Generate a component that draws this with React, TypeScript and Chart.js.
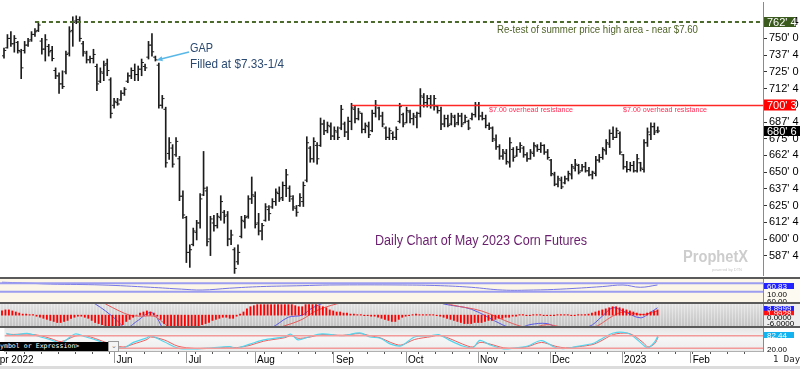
import React, { useEffect, useRef } from 'react';
import { Chart, registerables } from 'chart.js';

Chart.register(...registerables);
Chart.defaults.font.family = "'Liberation Sans', Arial, sans-serif";

// ---------------- data (daily May 2023 corn, cents/bu) ----------------
const highs = [
  742.7, 752.9, 755.1, 752.2, 747.8, 741.9, 747.8, 750.0, 755.1, 757.4,
  762.5, 750.0, 752.9, 745.6, 744.1, 728.0, 724.3, 725.8, 740.5, 758.8,
  766.2, 766.9, 766.2, 747.8, 740.5, 736.8, 741.9, 730.9, 728.0, 733.1,
  734.6, 720.6, 705.2, 705.2, 711.0, 713.3, 724.3, 728.0, 730.9, 729.4,
  734.6, 730.9, 747.8, 753.7, 736.8, 731.6, 707.4, 698.6, 675.8, 670.6,
  675.8, 661.8, 636.1, 617.0, 595.7, 608.2, 614.0, 633.9, 665.5, 639.0,
  617.0, 617.7, 619.2, 632.4, 621.4, 620.6, 606.7, 593.5, 595.7, 617.0,
  617.7, 632.4, 646.4, 635.3, 619.2, 611.8, 626.5, 625.1, 630.2, 637.6,
  639.0, 642.7, 652.2, 639.8, 632.4, 625.1, 633.9, 642.7, 676.5, 669.2,
  675.8, 672.1, 690.5, 689.0, 687.5, 686.8, 683.9, 683.9, 700.0, 687.5,
  691.2, 701.5, 700.0, 697.8, 694.1, 686.8, 687.5, 696.4, 703.7, 698.6,
  694.9, 683.9, 683.1, 680.2, 683.9, 701.5, 694.1, 698.6, 696.4, 694.1,
  694.9, 712.5, 708.8, 707.4, 707.4, 707.4, 700.0, 698.6, 692.7, 692.7,
  694.1, 692.7, 694.1, 694.1, 692.7, 689.0, 694.1, 702.2, 702.2, 694.9,
  692.7, 686.8, 683.9, 678.0, 670.6, 667.0, 667.0, 675.8, 668.4, 669.2,
  672.1, 669.2, 664.7, 667.0, 672.1, 670.6, 672.1, 670.6, 667.0, 659.6,
  650.0, 647.1, 646.4, 647.1, 650.8, 655.9, 659.6, 655.9, 655.9, 657.4,
  653.7, 650.8, 661.8, 663.3, 668.4, 674.3, 681.7, 683.9, 683.1, 680.2,
  663.3, 658.1, 657.4, 658.1, 663.3, 657.4, 674.3, 683.1, 686.8, 686.8,
  683.9,
];
const lows = [
  735.3, 742.7, 744.1, 739.7, 739.0, 719.9, 739.0, 744.1, 747.8, 751.5,
  755.1, 738.2, 733.1, 736.8, 733.1, 719.9, 708.8, 712.5, 723.5, 736.8,
  744.1, 761.0, 747.8, 736.8, 731.6, 731.6, 731.6, 711.0, 716.9, 718.4,
  722.1, 690.5, 697.8, 700.0, 703.7, 707.4, 716.9, 719.9, 718.4, 718.4,
  722.1, 725.8, 734.6, 736.8, 733.1, 697.8, 697.8, 653.7, 659.6, 653.7,
  661.8, 628.7, 615.5, 582.4, 578.8, 594.9, 599.3, 608.2, 632.4, 594.9,
  587.6, 605.9, 608.2, 614.0, 611.8, 594.9, 595.7, 574.3, 581.0, 600.8,
  608.2, 615.5, 626.5, 608.2, 603.0, 599.3, 613.3, 614.0, 622.9, 625.1,
  628.0, 628.7, 631.7, 628.0, 621.4, 617.0, 624.3, 624.3, 642.7, 657.4,
  657.4, 655.9, 669.2, 678.0, 679.4, 674.3, 674.3, 674.3, 681.7, 676.5,
  674.3, 681.7, 686.8, 689.0, 679.4, 679.4, 675.8, 680.2, 691.2, 689.0,
  683.9, 674.3, 674.3, 674.3, 674.3, 686.8, 683.9, 686.8, 686.8, 685.3,
  683.1, 691.2, 698.6, 698.6, 697.8, 696.4, 694.1, 681.7, 683.9, 683.9,
  685.3, 683.9, 685.3, 683.9, 686.8, 681.7, 689.0, 691.2, 689.0, 689.0,
  683.1, 681.7, 672.8, 667.0, 659.6, 659.6, 655.9, 653.7, 658.1, 661.8,
  664.7, 661.1, 658.1, 659.6, 661.8, 665.5, 664.7, 663.3, 659.6, 647.1,
  639.8, 639.0, 637.6, 641.2, 643.4, 644.9, 650.8, 648.6, 650.8, 650.0,
  647.1, 644.9, 647.1, 657.4, 659.6, 663.3, 668.4, 674.3, 675.8, 663.3,
  652.2, 650.0, 650.8, 650.0, 650.0, 650.8, 650.0, 669.2, 674.3, 678.0,
  679.4,
];
const opens = [
  737, 743, 750, 746, 747, 740, 741, 745, 749, 753,
  756, 748, 742, 744, 741, 726, 722, 716, 725, 739,
  756, 763, 764, 746, 739, 734, 735, 729, 718, 724,
  731, 719, 700, 702, 704, 709, 718, 722, 726, 723,
  727, 729, 736, 745, 736, 730, 700, 697, 664, 668,
  663, 660, 632, 616, 590, 596, 605, 612, 633, 636,
  600, 612, 610, 616, 620, 618, 600, 592, 583, 602,
  613, 617, 630, 632, 612, 606, 614, 622, 624, 628,
  634, 631, 640, 638, 630, 623, 625, 628, 644, 668,
  660, 670, 670, 686, 681, 684, 677, 680, 683, 686,
  680, 688, 697, 690, 694, 682, 684, 681, 694, 698,
  692, 683, 676, 679, 676, 688, 693, 687, 695, 690,
  691, 694, 706, 702, 705, 700, 699, 696, 686, 690,
  686, 691, 687, 692, 687, 688, 690, 693, 700, 692,
  690, 685, 683, 674, 669, 662, 664, 657, 667, 662,
  667, 668, 663, 660, 664, 669, 667, 670, 665, 659,
  648, 641, 644, 642, 645, 648, 653, 655, 651, 654,
  651, 648, 649, 659, 661, 666, 671, 679, 676, 679,
  663, 654, 652, 655, 651, 657, 652, 672, 678, 684,
  681,
];
const closes = [
  741, 750, 746, 750, 741, 728, 745, 748, 753, 755,
  760, 742, 749, 740, 735, 722, 716, 714, 738, 755,
  762, 764, 750, 740, 734, 735, 738, 716, 725, 730,
  726, 694, 703, 701, 709, 712, 722, 726, 723, 727,
  732, 728, 745, 740, 734, 700, 705, 657, 672, 656,
  673, 632, 618, 590, 592, 606, 612, 630, 638, 598,
  615, 610, 617, 628, 617, 600, 603, 578, 590, 614,
  616, 630, 633, 611, 606, 610, 624, 619, 628, 635,
  630, 640, 648, 632, 624, 620, 631, 640, 672, 660,
  673, 660, 686, 681, 685, 677, 681, 676, 697, 680,
  688, 698, 690, 695, 682, 685, 678, 694, 700, 692,
  686, 676, 681, 676, 682, 699, 686, 696, 690, 692,
  694, 707, 702, 705, 700, 705, 696, 686, 690, 685,
  692, 686, 692, 686, 691, 683, 693, 700, 692, 690,
  685, 683, 675, 669, 662, 665, 658, 672, 661, 667,
  670, 663, 660, 665, 670, 667, 670, 665, 661, 649,
  641, 645, 639, 645, 649, 654, 656, 650, 654, 651,
  648, 650, 659, 661, 667, 672, 679, 676, 681, 665,
  654, 652, 655, 651, 660, 653, 672, 680, 684, 680,
  680.75,
];

// MACD histogram (one value per bar) and the two MACD lines
const macdHist = [
  4, 5, 5, 4, 3, 2, 1, 1, 0.5, 0.5,
  -1, -2, -3, -4, -5, -6, -7, -7, -6, -5,
  -3, -2, -1, -1, -2, -3, -5, -7, -8, -9,
  -10, -11, -11, -11, -10, -9, -6, -4, -2, 0,
  2, 3, 4, 3, 2, -1, -4, -8, -10, -11,
  -11, -11, -11, -11, -11, -11, -11, -10, -9, -8,
  -7, -5, -4, -3, -2, -2, -3, -3, -1, 1,
  3, 6, 8, 9, 10, 10, 10, 10, 10, 10,
  10, 10, 10, 10, 10, 9, 8, 8, 10, 10,
  10, 10, 9, 8, 7, 5, 4, 3, 3, 2,
  2, 1, 1, 0.5, 0.5, -0.5, -0.5, -1, -1, -2,
  -3, -4, -5, -6, -6, -4, -2, -1, -0.5, 0.5,
  1, 0.5, 0.5, 0.5, 0.5, 0.5, -0.5, -1, -2, -3,
  -4, -5, -6, -7, -8, -8, -8, -7, -7, -7,
  -6, -5, -5, -4, -3, -3, -2, -2, -1, -1,
  0.5, 0.5, -0.5, -0.5, 0.5, 0.5, 0.5, -0.5, -0.5, -0.5,
  -0.5, 0.5, 0.5, 0.5, 0.5, -0.5, -0.5, 0.5, 0.5, 0.5,
  1, 2, 3, 4, 5, 6, 7, 8, 8, 7,
  6, 5, 4, 3, 2, 1, 1, 2, 3, 4,
  5,
];
const macdIdx = [0, 17, 25, 27, 30, 33, 36, 39, 43, 45, 47, 58, 69, 78, 83, 87, 90, 95, 110, 124, 128, 136, 145, 149, 153, 158, 162, 170, 174, 177, 180, 185, 188, 190];
const macdLine = [25, 22, 14, 10.7, 4, -4, -12, -6, 2.7, -3, -13, -25, -20, -12, -2, 0, 7, 13, 20, 16, 10.7, 5.7, -9, -13, -9, -8, -13, -11, -1, 7, 4, -2.5, 2.7, 7];
const signalIdx = [0, 27, 30, 34, 37, 40, 44, 46, 49, 69, 82, 87, 91, 97, 110, 127, 130, 139, 148, 153, 158, 162, 171, 177, 180, 184, 187, 190];
const signalLine = [25, 16, 10.7, 4, 0, -1, -1, -5, -12, -22, -10, -4, 4, 10.7, 20, 14, 10, 4, -8, -12, -9, -11, -12, -1, 3, 1, 1, 4];

// Stochastics
const stochIdx = [0, 2, 6, 10, 13, 16, 20, 23, 26, 30, 34, 37, 41, 42, 46, 50, 55, 60, 65, 67, 71, 75, 81, 83, 85, 88, 92, 98, 103, 106, 109, 112, 115, 119, 124, 126, 129, 133, 136, 138, 141, 145, 148, 152, 156, 160, 163, 167, 171, 173, 177, 181, 183, 186, 187, 189, 190];
const stochK = [91, 83, 91, 74, 60, 45, 88, 75, 60, 35, 21, 48, 70, 80, 51, 21, 17, 22, 28, 20, 40, 60, 74, 87, 60, 74, 89, 80, 93, 74, 68, 40, 31, 74, 80, 85, 60, 31, 22, 58, 36, 17, 21, 31, 57, 24, 19, 31, 43, 60, 93, 93, 74, 31, 21, 51, 82];
const stochD = [88, 86, 88, 80, 66, 52, 78, 80, 66, 42, 26, 40, 62, 74, 60, 30, 19, 20, 26, 23, 34, 54, 70, 80, 68, 72, 85, 82, 90, 80, 70, 48, 35, 62, 76, 82, 68, 40, 26, 48, 40, 22, 20, 28, 48, 30, 22, 28, 38, 52, 86, 92, 80, 42, 26, 42, 74];

// Top study (blue)
const studyIdx = [0, 6, 14, 29, 43, 52, 58, 66, 75, 87, 95, 116, 127, 136, 145, 154, 162, 174, 180, 185, 190];
const studyLine = [86, 83, 78, 74, 64, 56, 52, 60, 67, 71, 74, 74, 71, 64, 52, 52, 56, 67, 74, 64, 74];
const studyLevels = [81, 45];

const priceTicks = [587.5, 600, 612.5, 625, 637.5, 650, 662.5, 675, 687.5, 700, 712.5, 725, 737.5, 750, 762.5];
const monthTickIdx = [-4.5, 31.5, 52.5, 72.5, 95.5, 116.5, 137.5, 158.5, 179.5, 199.5];
const monthLabels = ['Apr 2022', 'Jun', 'Jul', 'Aug', 'Sep', 'Oct', 'Nov', 'Dec', '2023', 'Feb'];

const SUMMER_HIGH = 762.5;
const SUMMER_START = 9;
const RESISTANCE = 700.375;
const RESIST_START = 101;
const LAST = closes[closes.length - 1];

// ---------------- layout ----------------
const W = 800;
const AXIS_W = 37;
const X_MIN = -0.58;
const X_MAX = 220.58;
const BAR_COLOR = '#1c1c1c';

function fmtPrice(v: number) {
  const w = Math.floor(v + 1e-6);
  const e = Math.round((v - w) * 8);
  return `${w}' ${e}`;
}

const fixAxisWidth = (s: any) => {
  s.width = AXIS_W;
  s.paddingTop = 0;
  s.paddingBottom = 0;
};

function xScale(display = false): any {
  return { type: 'linear', min: X_MIN, max: X_MAX, offset: false, display, grid: { display: false } };
}

function plainY(min: number, max: number): any {
  return {
    type: 'linear', position: 'right', min, max,
    ticks: { display: false },
    grid: { display: false, drawTicks: false },
    border: { display: true, color: '#8a8a8a' },
    afterFit: fixAxisWidth,
  };
}

function label(ctx: CanvasRenderingContext2D, s: string, x: number, y: number, font: string, color: string, maxW?: number) {
  ctx.font = font;
  ctx.fillStyle = color;
  ctx.textAlign = 'left';
  ctx.textBaseline = 'middle';
  if (maxW) ctx.fillText(s, x, y, maxW);
  else ctx.fillText(s, x, y);
}

function box(ctx: CanvasRenderingContext2D, x: number, yc: number, w: number, h: number, bg: string | null, fg: string, s: string, font: string) {
  if (bg) {
    ctx.fillStyle = bg;
    ctx.fillRect(x, yc - h / 2, w, h);
  }
  label(ctx, s, x + 3, yc + 0.5, font, fg);
}

const common: any = {
  animation: false,
  responsive: false,
  maintainAspectRatio: false,
  layout: { padding: 0 },
  events: [],
  plugins: { legend: { display: false }, tooltip: { enabled: false } },
};

// ---------------- main price chart ----------------
const mainPlugin = {
  id: 'mainAnno',
  beforeDraw(chart: any) {
    const { ctx, width, height } = chart;
    ctx.save();
    ctx.fillStyle = '#ffffff';
    ctx.fillRect(0, 0, width, height);
    ctx.restore();
  },
  afterDatasetsDraw(chart: any) {
    const { ctx, chartArea: a, scales } = chart;
    const x = scales.x, y = scales.y;
    ctx.save();
    const yH = Math.round(y.getPixelForValue(SUMMER_HIGH));
    ctx.strokeStyle = '#4b6a2c';
    ctx.lineWidth = 2;
    ctx.setLineDash([4, 3]);
    ctx.beginPath();
    ctx.moveTo(x.getPixelForValue(SUMMER_START), yH);
    ctx.lineTo(a.right, yH);
    ctx.stroke();
    ctx.setLineDash([]);

    const yR = Math.round(y.getPixelForValue(RESISTANCE)) + 0.5;
    ctx.strokeStyle = '#ff2626';
    ctx.lineWidth = 1.5;
    ctx.beginPath();
    ctx.moveTo(x.getPixelForValue(RESIST_START), yR);
    ctx.lineTo(a.right, yR);
    ctx.stroke();

    label(ctx, 'Re-test of summer price high area - near $7.60', 497, 30, '11.5px "Liberation Sans"', '#4f6228', 201);
    label(ctx, '$7.00 overhead resistance', 489, 110, '8px "Liberation Sans"', '#ff2d55', 84);
    label(ctx, '$7.00 overhead resistance', 623, 110, '8px "Liberation Sans"', '#ff2d55', 84);
    label(ctx, 'GAP', 190, 48, '13px "Liberation Sans"', '#2b4a72', 23);
    label(ctx, 'Filled at $7.33-1/4', 190, 64, '13px "Liberation Sans"', '#2b4a72', 94);
    label(ctx, 'Daily Chart of May 2023 Corn Futures', 375, 241, '14px "Liberation Sans"', '#6a1f6e', 212);

    // arrow to the gap
    const x1 = 189, y1 = 52, x2 = 157, y2 = 60;
    ctx.strokeStyle = '#59b8e8';
    ctx.fillStyle = '#59b8e8';
    ctx.lineWidth = 1.5;
    ctx.beginPath();
    ctx.moveTo(x1, y1);
    ctx.lineTo(x2, y2);
    ctx.stroke();
    const ang = Math.atan2(y2 - y1, x2 - x1);
    ctx.beginPath();
    ctx.moveTo(x2, y2);
    ctx.lineTo(x2 - 6 * Math.cos(ang - 0.45), y2 - 6 * Math.sin(ang - 0.45));
    ctx.lineTo(x2 - 6 * Math.cos(ang + 0.45), y2 - 6 * Math.sin(ang + 0.45));
    ctx.closePath();
    ctx.fill();

    // watermark
    label(ctx, 'ProphetX', 683, 258, 'bold 16px "Liberation Sans"', '#cdcdcd', 65);
    label(ctx, 'powered by DTN', 712, 270, '4px "Liberation Sans"', '#c8c8c8', 34);
    ctx.restore();
  },
  afterDraw(chart: any) {
    const { ctx, chartArea: a, scales } = chart;
    const y = scales.y;
    ctx.save();
    const f = '11px "Liberation Sans"';
    box(ctx, a.right + 1, Math.round(y.getPixelForValue(SUMMER_HIGH)), 32, 10, '#3b5a1e', '#ffffff', fmtPrice(SUMMER_HIGH), f);
    box(ctx, a.right + 1, Math.round(y.getPixelForValue(RESISTANCE)), 32, 11, '#ff0000', '#ffffff', fmtPrice(RESISTANCE), f);
    box(ctx, a.right + 1, Math.round(y.getPixelForValue(LAST)), 37, 10, '#000000', '#ffffff', fmtPrice(LAST), f);
    ctx.restore();
  },
};

function mainConfig(): any {
  return {
    type: 'bar',
    data: {
      datasets: [
        {
          type: 'bar',
          data: highs.map((h, i) => ({ x: i, y: [lows[i], h] })),
          backgroundColor: BAR_COLOR,
          borderWidth: 0,
          barThickness: 1,
        },
        {
          type: 'scatter',
          data: opens.map((o, i) => ({ x: i - 0.36, y: o })),
          pointStyle: 'line', pointRadius: 1, pointHoverRadius: 0,
          pointBorderColor: BAR_COLOR, pointBorderWidth: 1, borderColor: BAR_COLOR,
        },
        {
          type: 'scatter',
          data: closes.map((c, i) => ({ x: i + 0.36, y: c })),
          pointStyle: 'line', pointRadius: 1, pointHoverRadius: 0,
          pointBorderColor: BAR_COLOR, pointBorderWidth: 1, borderColor: BAR_COLOR,
        },
      ],
    },
    options: {
      ...common,
      scales: {
        x: xScale(false),
        y: {
          type: 'linear', position: 'right', min: 573.1, max: 777.24,
          afterFit: fixAxisWidth,
          afterBuildTicks: (s: any) => { s.ticks = priceTicks.map((v) => ({ value: v })); },
          ticks: { callback: (v: any) => fmtPrice(Number(v)), font: { size: 11 }, color: '#000', padding: 2, autoSkip: false },
          grid: { drawOnChartArea: false, drawTicks: true, tickLength: 4, color: '#333' },
          border: { display: true, color: '#8a8a8a' },
        },
      },
    },
    plugins: [mainPlugin],
  };
}

// ---------------- study A (blue) ----------------
const studyPlugin = {
  id: 'studyA',
  beforeDraw(chart: any) {
    const { ctx, chartArea: a, width, height } = chart;
    ctx.save();
    ctx.fillStyle = '#fdfaf1';
    ctx.fillRect(0, 0, width, height);
    ctx.fillStyle = '#fbf6e8';
    ctx.fillRect(a.left, a.top, a.right - a.left, a.bottom - a.top);
    ctx.restore();
  },
  afterDraw(chart: any) {
    const { ctx, chartArea: a, scales } = chart;
    ctx.save();
    const f = '8px "Liberation Sans"';
    box(ctx, a.right + 1, Math.round(scales.y.getPixelForValue(studyLine[studyLine.length - 1])) + 1, 30, 6, '#2323ff', '#ffffff', '60.83', f);
    box(ctx, a.right + 1, 15, 30, 6, null, '#000000', '10.00', f);
    box(ctx, a.right + 1, 22, 30, 6, null, '#000000', '60.00', f);
    ctx.restore();
  },
};

function studyConfig(): any {
  return {
    type: 'line',
    data: {
      datasets: [
        ...studyLevels.map((lv) => ({
          data: [{ x: X_MIN, y: lv }, { x: X_MAX, y: lv }],
          borderColor: '#9c9cf0', borderWidth: 2, pointRadius: 0,
        })),
        {
          data: studyIdx.map((x, k) => ({ x, y: studyLine[k] })),
          borderColor: '#7676e6', borderWidth: 1, pointRadius: 0, tension: 0.4,
        },
      ],
    },
    options: { ...common, scales: { x: xScale(false), y: plainY(0, 100) } },
    plugins: [studyPlugin],
  };
}

// ---------------- MACD ----------------
const macdPlugin = {
  id: 'macdBg',
  beforeDraw(chart: any) {
    const { ctx, chartArea: a, width, height } = chart;
    ctx.save();
    ctx.fillStyle = '#eeeeee';
    ctx.fillRect(0, 0, width, height);
    const g = ctx.createLinearGradient(0, a.top, 0, a.bottom);
    g.addColorStop(0, '#e2e2e2');
    g.addColorStop(0.5, '#d2d2d2');
    g.addColorStop(1, '#c4c4c4');
    ctx.fillStyle = g;
    ctx.fillRect(a.left, a.top, a.right - a.left, a.bottom - a.top);
    ctx.fillStyle = 'rgba(255,255,255,0.35)';
    for (let px = a.left; px < a.right; px += 3) ctx.fillRect(px, a.top, 1, a.bottom - a.top);
    ctx.restore();
  },
  afterDraw(chart: any) {
    const { ctx, chartArea: a } = chart;
    ctx.save();
    const f = '8px "Liberation Sans"';
    box(ctx, a.right + 1, 4.5, 30, 5, '#1f1fff', '#ffffff', '3.8999', f);
    box(ctx, a.right + 1, 9, 30, 4.5, '#ff1010', '#ffffff', '1.9928', f);
    box(ctx, a.right + 1, 13.5, 30, 5, null, '#000000', '0.0000', f);
    box(ctx, a.right + 1, 19, 30, 5, null, '#000000', '-6.0000', f);
    ctx.restore();
  },
};

function macdConfig(): any {
  return {
    type: 'bar',
    data: {
      datasets: [
        {
          type: 'bar',
          data: macdHist.map((v, i) => ({ x: i, y: v })),
          backgroundColor: '#ff0000', borderWidth: 0, barThickness: 1.2,
        },
        {
          type: 'line',
          data: signalIdx.map((x, k) => ({ x, y: signalLine[k] })),
          borderColor: '#e85a5a', borderWidth: 1, pointRadius: 0, tension: 0.35,
        },
        {
          type: 'line',
          data: macdIdx.map((x, k) => ({ x, y: macdLine[k] })),
          borderColor: '#5a5ae6', borderWidth: 1, pointRadius: 0, tension: 0.35,
        },
      ],
    },
    options: { ...common, scales: { x: xScale(false), y: plainY(-10.3, 10.6) } },
    plugins: [macdPlugin],
  };
}

// ---------------- Stochastics + time axis ----------------
const stochPlugin = {
  id: 'stochBg',
  beforeDraw(chart: any) {
    const { ctx, chartArea: a, width, height } = chart;
    ctx.save();
    ctx.fillStyle = '#ffffff';
    ctx.fillRect(0, 0, width, height);
    const g = ctx.createLinearGradient(0, a.top, 0, a.bottom);
    g.addColorStop(0, '#e6e6e6');
    g.addColorStop(0.45, '#f6f6f6');
    g.addColorStop(1, '#ececec');
    ctx.fillStyle = g;
    ctx.fillRect(a.left, a.top, a.right - a.left, a.bottom - a.top);
    ctx.fillStyle = '#dcdcdc';
    ctx.fillRect(0, height - 3, width, 3);
    ctx.restore();
  },
  afterDatasetsDraw(chart: any) {
    const { ctx, chartArea: a, scales } = chart;
    ctx.save();
    ctx.fillStyle = '#555';
    for (let i = 0; i <= 215; i += 5) {
      const px = Math.round(scales.x.getPixelForValue(i));
      if (px > a.left && px < a.right) ctx.fillRect(px, a.bottom + 1, 1, 2);
    }
    ctx.restore();
  },
  afterDraw(chart: any) {
    const { ctx, chartArea: a, scales, height } = chart;
    ctx.save();
    const f = '8px "Liberation Sans"';
    box(ctx, a.right + 1, Math.round(scales.y.getPixelForValue(stochK[stochK.length - 1])), 30, 6, '#14b2ee', '#ffffff', '82.44', f);
    box(ctx, a.right + 1, Math.round(scales.y.getPixelForValue(20)) + 1, 30, 6, null, '#000000', '20.00', f);
    label(ctx, '1 Day', a.right + 10, height - 9, '9px "DejaVu Sans Mono"', '#222');
    ctx.restore();
  },
};

function stochConfig(): any {
  return {
    type: 'line',
    data: {
      datasets: [
        { data: [{ x: X_MIN, y: 80 }, { x: X_MAX, y: 80 }], borderColor: '#f29a9a', borderWidth: 1.5, pointRadius: 0 },
        { data: [{ x: X_MIN, y: 20 }, { x: X_MAX, y: 20 }], borderColor: '#f29a9a', borderWidth: 1.5, pointRadius: 0 },
        { data: stochIdx.map((x, k) => ({ x, y: stochK[k] })), borderColor: '#52d6ee', borderWidth: 1.2, pointRadius: 0, tension: 0.3 },
        { data: stochIdx.map((x, k) => ({ x, y: stochD[k] })), borderColor: '#ee5f5f', borderWidth: 1, pointRadius: 0, tension: 0.3 },
      ],
    },
    options: {
      ...common,
      scales: {
        x: {
          type: 'linear', min: X_MIN, max: X_MAX, offset: false, position: 'bottom',
          afterBuildTicks: (s: any) => { s.ticks = monthTickIdx.map((v) => ({ value: v })); },
          afterFit: (s: any) => { s.height = 18; },
          ticks: {
            callback: (_v: any, i: number) => monthLabels[i],
            align: 'start', labelOffset: 2, padding: -9, autoSkip: false, maxRotation: 0, minRotation: 0,
            font: { size: 10 }, color: '#000',
          },
          grid: { drawOnChartArea: false, drawTicks: true, tickLength: 12, color: '#9a9a9a' },
          border: { display: true, color: '#b0b0b0' },
        },
        y: plainY(7.1, 116.7),
      },
    },
    plugins: [stochPlugin],
  };
}

export default function App() {
  const mainRef = useRef<HTMLCanvasElement>(null);
  const aRef = useRef<HTMLCanvasElement>(null);
  const bRef = useRef<HTMLCanvasElement>(null);
  const cRef = useRef<HTMLCanvasElement>(null);

  useEffect(() => {
    const charts: Chart[] = [];
    if (mainRef.current) charts.push(new Chart(mainRef.current, mainConfig()));
    if (aRef.current) charts.push(new Chart(aRef.current, studyConfig()));
    if (bRef.current) charts.push(new Chart(bRef.current, macdConfig()));
    if (cRef.current) charts.push(new Chart(cRef.current, stochConfig()));
    return () => charts.forEach((c) => c.destroy());
  }, []);

  const cv = (top: number, h: number): React.CSSProperties => ({ position: 'absolute', left: 0, top, width: W, height: h, display: 'block' });
  const bar = (top: number, h: number, color: string): React.CSSProperties => ({ position: 'absolute', left: 0, top, width: W, height: h, background: color });

  return (
    <div style={{ position: 'fixed', left: 0, top: 0, width: W, height: 369, background: '#fff', overflow: 'hidden' }}>
      <canvas ref={mainRef} width={W} height={277} style={cv(0, 277)} />
      <div style={bar(277, 2, '#5a5a5a')} />
      <canvas ref={aRef} width={W} height={23} style={cv(279, 23)} />
      <div style={bar(302, 2, '#5a5a5a')} />
      <canvas ref={bRef} width={W} height={22} style={cv(304, 22)} />
      <div style={bar(326, 2, '#5a5a5a')} />
      <canvas ref={cRef} width={W} height={41} style={cv(328, 41)} />
      <div style={{ position: 'absolute', left: 0, top: 342, width: 108, height: 9, background: '#000', color: '#fff', font: '6.6px "DejaVu Sans Mono", monospace', lineHeight: '9px', whiteSpace: 'nowrap', overflow: 'hidden', textIndent: -8 }}>
        &lt;Symbol or Expression&gt;
      </div>
      <div style={{ position: 'absolute', left: 108, top: 341, width: 9, height: 9, background: '#f4f4f4', border: '1px solid #9a9a9a', color: '#777', font: '7px "Liberation Sans"', lineHeight: '8px', textAlign: 'center' }}>
        ⌄
      </div>
    </div>
  );
}
